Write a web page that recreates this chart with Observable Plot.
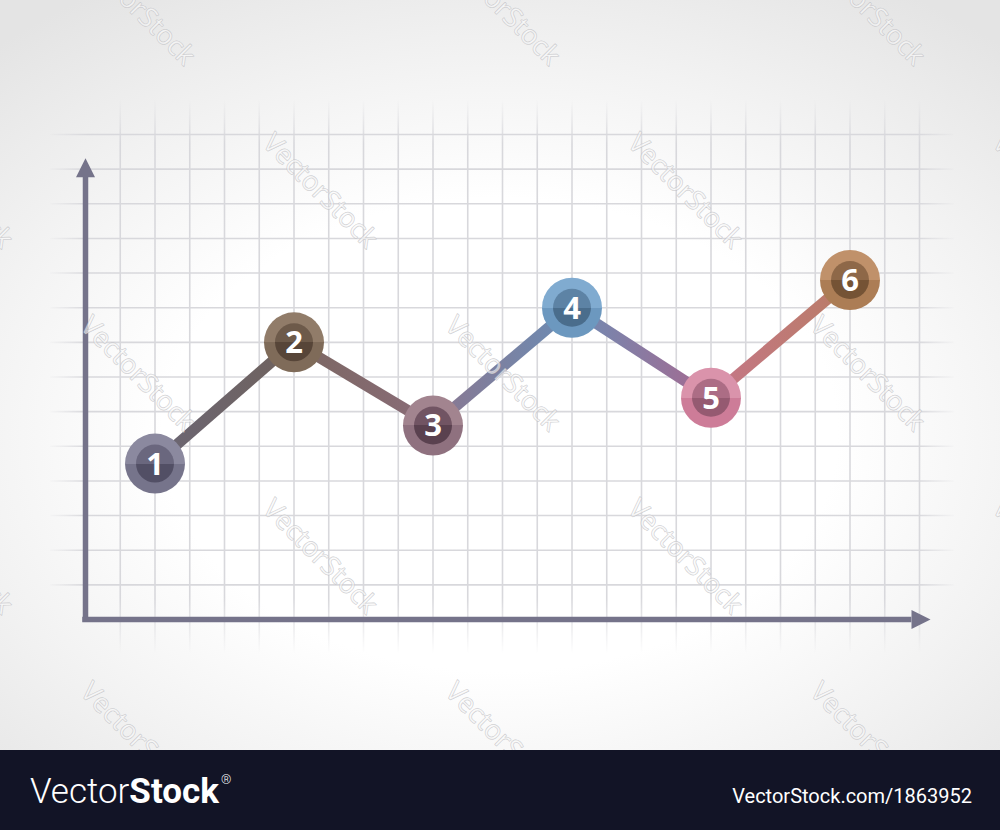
<!DOCTYPE html>
<html>
<head>
<meta charset="utf-8">
<script src="https://cdn.jsdelivr.net/npm/d3@7"></script>
<script src="https://cdn.jsdelivr.net/npm/@observablehq/plot@0.6"></script>
<style>
  html, body { margin: 0; padding: 0; width: 1000px; height: 830px; overflow: hidden; background: #ffffff; }
  #chart svg { display: block; }
  #banner { display: block; }
</style>
</head>
<body>
<div id="chart"></div>
<svg id="banner" width="1000" height="80" xmlns="http://www.w3.org/2000/svg">
  <rect x="0" y="0" width="1000" height="80" fill="#121426"></rect>
  <text x="30" y="53" fill="#ffffff" font-family="Roboto, 'DejaVu Sans', sans-serif" font-size="35"><tspan font-weight="300">Vector</tspan><tspan font-weight="700">Stock</tspan><tspan font-size="13" dy="-19" dx="2" font-weight="300">®</tspan></text>
  <text x="972" y="53" fill="#ffffff" text-anchor="end" font-family="Roboto, 'DejaVu Sans', sans-serif" font-size="20">VectorStock.com/1863952</text>
</svg>
<script>
// ---- data ----
const steps = ["1", "2", "3", "4", "5", "6"];
const stepX = [2, 6, 10, 14, 18, 22];
const values = [4.5, 8.0, 5.6, 9.0, 6.4, 9.8];

const ringTop    = ["#8b899f", "#917c69", "#a2848f", "#80abd0", "#da93ab", "#c0916a"];
const ringBottom = ["#76748b", "#7f6b59", "#8f717f", "#6c98bf", "#cd7c98", "#ac7d55"];
const coreTop    = ["#6a677e", "#6d5a4a", "#715463", "#5d83a5", "#ac6d85", "#8e6848"];
const coreBottom = ["#524f65", "#574538", "#5a414f", "#4a6d8c", "#955a71", "#755335"];

const segStart = ["#6b6674", "#7b6762", "#8a7790", "#6f8bb3", "#c57787"];
const segEnd   = ["#6f625d", "#8a6c78", "#6b8cb4", "#a56990", "#b97c66"];

const xGrid = d3.range(1, 25);   // vertical grid lines (grid units)
const yGrid = d3.range(1, 15);   // horizontal grid lines (grid units)
const xAxisEnd = 24;
const yAxisEnd = 13;
const axisColor = "#75738a";
const watermarkText = "VectorStock";

// ---- derived tables ----
const points = steps.map((s, i) => ({
  label: s, x: stepX[i], y: values[i],
  ring: `url(#ring${i})`, core: `url(#core${i})`
}));
const segments = d3.pairs(points).map(([a, b], i) => ({
  x1: a.x, y1: a.y, x2: b.x, y2: b.y, stroke: `url(#seg${i})`
}));

// watermark lattice (decoration, in grid units)
const watermarks = [];
for (let r = 0; r < 5; r++) {
  const y = 17.65 - 5.28 * r;
  const x0 = r % 2 === 0 ? 1.5 : 6.75;
  for (let k = -1; k < 3; k++) watermarks.push({x: x0 + 10.5 * k, y});
}

// custom arrowhead symbols
const arrowUp = { draw(ctx) { ctx.moveTo(0, -11); ctx.lineTo(9.5, 8); ctx.lineTo(-9.5, 8); ctx.closePath(); } };
const arrowRight = { draw(ctx) { ctx.moveTo(11, 0); ctx.lineTo(-8, 9.5); ctx.lineTo(-8, -9.5); ctx.closePath(); } };

const plot = Plot.plot({
  width: 1000,
  height: 750,
  marginLeft: 85,
  marginRight: 81,
  marginTop: 134,
  marginBottom: 131,
  x: {domain: [0, 24], axis: null},
  y: {domain: [0, 14], axis: null},
  color: {type: "identity"},
  style: "background: radial-gradient(ellipse 75% 70% at 50% 58%, #ffffff 45%, #f2f2f2 72%, #e4e4e4 100%); overflow: visible;",
  marks: [
    Plot.ruleY(yGrid, {x1: -1, x2: 25, stroke: "url(#gridH)", strokeWidth: 1.6}),
    Plot.ruleX(xGrid, {y1: -1, y2: 15, stroke: "url(#gridV)", strokeWidth: 1.6}),
    Plot.ruleX([0], {y1: 0, y2: yAxisEnd - 0.3, stroke: axisColor, strokeWidth: 5.5, strokeLinecap: "square", ariaLabel: "yaxis"}),
    Plot.ruleY([0], {x1: 0, x2: xAxisEnd - 0.3, stroke: axisColor, strokeWidth: 5.5, strokeLinecap: "square", ariaLabel: "xaxis"}),
    Plot.dot([{x: 0, y: yAxisEnd}], {x: "x", y: "y", symbol: arrowUp, fill: axisColor, stroke: "none", ariaLabel: "arrow-up"}),
    Plot.dot([{x: xAxisEnd, y: 0}], {x: "x", y: "y", symbol: arrowRight, fill: axisColor, stroke: "none", ariaLabel: "arrow-right"}),
    Plot.link(segments, {x1: "x1", y1: "y1", x2: "x2", y2: "y2", stroke: "stroke", strokeWidth: 11, ariaLabel: "segments"}),
    Plot.dot(points, {x: "x", y: "y", r: 30, fill: "ring", stroke: "none", ariaLabel: "rings"}),
    Plot.dot(points, {x: "x", y: "y", r: 19, fill: "core", stroke: "none"}),
    Plot.text(points, {x: "x", y: "y", text: "label", fill: "#ffffff", fontSize: 31, fontWeight: "bold", fontFamily: "'Open Sans', sans-serif", dy: 1, ariaLabel: "labels"}),
    Plot.text(watermarks, {x: "x", y: "y", text: () => watermarkText, rotate: 45, fontSize: 27, fontFamily: "'Open Sans', sans-serif", fill: "#ffffff", fillOpacity: 0.55, stroke: "#b9b9bd", strokeOpacity: 0.75, strokeWidth: 0.9, ariaLabel: "watermarks"})
  ]
});

// ---- gradients and shadows ----
const svg = d3.select(plot);
const xs = plot.scale("x"), ys = plot.scale("y");
const defs = svg.insert("defs", ":first-child");

function splitGrad(id, top, bottom) {
  const g = defs.append("linearGradient").attr("id", id).attr("x1", 0).attr("y1", 0).attr("x2", 0).attr("y2", 1);
  g.append("stop").attr("offset", "0%").attr("stop-color", top);
  g.append("stop").attr("offset", "50%").attr("stop-color", top);
  g.append("stop").attr("offset", "50%").attr("stop-color", bottom);
  g.append("stop").attr("offset", "100%").attr("stop-color", bottom);
}
points.forEach((p, i) => {
  splitGrad(`ring${i}`, ringTop[i], ringBottom[i]);
  splitGrad(`core${i}`, coreTop[i], coreBottom[i]);
});
segments.forEach((s, i) => {
  const g = defs.append("linearGradient").attr("id", `seg${i}`).attr("x1", 0).attr("y1", 0).attr("x2", 1).attr("y2", 0);
  g.append("stop").attr("offset", "0%").attr("stop-color", segStart[i]);
  g.append("stop").attr("offset", "100%").attr("stop-color", segEnd[i]);
});
function fadeGrad(id, x1, y1, x2, y2, stops) {
  const g = defs.append("linearGradient").attr("id", id).attr("gradientUnits", "userSpaceOnUse")
    .attr("x1", x1).attr("y1", y1).attr("x2", x2).attr("y2", y2);
  stops.forEach(([o, a]) =>
    g.append("stop").attr("offset", o).attr("stop-color", "#d8d8dc").attr("stop-opacity", a));
}
fadeGrad("gridV", 0, ys.apply(15), 0, ys.apply(-1), [[0, 0], [0.08, 1], [0.9, 1], [1, 0]]);
fadeGrad("gridH", xs.apply(-1), 0, xs.apply(25), 0, [[0, 0.1], [0.04, 1], [0.96, 1], [1, 0.1]]);

svg.selectAll('g[aria-label="yaxis"], g[aria-label="xaxis"], g[aria-label="arrow-up"], g[aria-label="arrow-right"]')
  .style("filter", "drop-shadow(-1px 2px 2px rgba(0,0,0,0.25))");
svg.selectAll('g[aria-label="segments"]')
  .style("filter", "drop-shadow(-2px 4px 3px rgba(0,0,0,0.25))");
svg.selectAll('g[aria-label="rings"]')
  .style("filter", "drop-shadow(-3px 4px 4px rgba(0,0,0,0.35))");
svg.selectAll('g[aria-label="labels"]')
  .style("filter", "drop-shadow(0px 1px 1px rgba(0,0,0,0.3))");

document.getElementById("chart").appendChild(plot);
</script>
</body>
</html>
